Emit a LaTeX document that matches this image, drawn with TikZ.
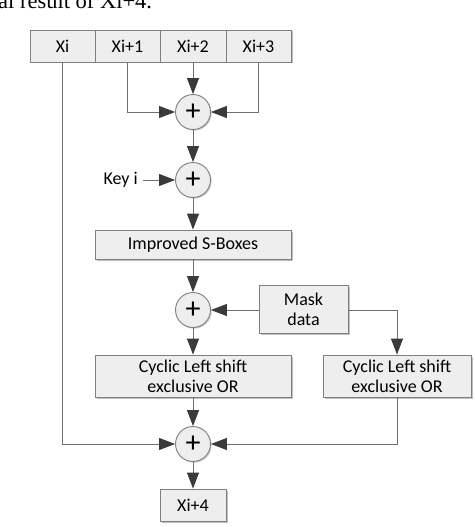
\documentclass[tikz,border=0pt]{standalone}
\usepackage{fontspec}
\setmainfont{Carlito}
\newfontfamily\serifcut{Liberation Serif}
\usetikzlibrary{arrows.meta,shadows}
\definecolor{boxfill}{HTML}{EEEEEE}
\definecolor{boxline}{HTML}{7F7F7F}
\definecolor{wire}{HTML}{707070}
\definecolor{tipc}{HTML}{3A3A3A}
\tikzset{
  blk/.style={draw=boxline, fill=boxfill, line width=0.9pt, inner sep=0pt, align=center,
    font=\fontsize{18}{20}\selectfont, text=black,
    drop shadow={shadow xshift=1.5pt, shadow yshift=-1.5pt, opacity=0.25, fill=black}},
  xorc/.style={circle, draw=boxline, fill=boxfill, line width=0.9pt, minimum size=35pt, inner sep=0pt,
    font=\fontsize{30}{30}\selectfont, drop shadow={shadow xshift=1.2pt, shadow yshift=-1.2pt, opacity=0.2, fill=black}},
  wireline/.style={draw=wire, line width=0.9pt},
  arr/.style={wireline, -{Triangle[length=16pt,width=12pt,color=tipc]}},
  lbl/.style={font=\fontsize{18}{20}\selectfont, inner sep=0pt}
}
\begin{document}
\begin{tikzpicture}[x=1pt,y=-1pt]
\useasboundingbox (0,0) rectangle (474,527);
\begin{scope}
\clip (0,0) rectangle (474,527);
\node[anchor=base west, inner sep=0pt, font=\serifcut\fontsize{22.5}{22.5}\selectfont] (cap) at (-2,8.5) {al result of Xi+4.};
\end{scope}
% top boxes
\node[blk, minimum width=65pt, minimum height=32pt] (xi) at (62.5,46) {Xi};
\node[blk, minimum width=65pt, minimum height=32pt] (xi1) at (127.5,46) {Xi+1};
\node[blk, minimum width=66pt, minimum height=32pt] (xi2) at (193,46) {Xi+2};
\node[blk, minimum width=65pt, minimum height=32pt] (xi3) at (258.5,46) {Xi+3};
% xors
\node[xorc] (c1) at (193,112) {+};
\node[xorc] (c2) at (193,180) {+};
\node[xorc] (c3) at (193,310) {+};
\node[xorc] (c4) at (193,444) {+};
\node[lbl, anchor=east] (key) at (138,180) {Key i};
\node[blk, minimum width=196pt, minimum height=29pt] (sbox) at (193,244.5) {Improved S-Boxes};
\node[blk, minimum width=89pt, minimum height=48pt] (mask) at (303.5,309) {Mask\\data};
\node[blk, minimum width=196pt, minimum height=42pt] (cls1) at (193,376) {Cyclic Left shift\\exclusive OR};
\node[blk, minimum width=148pt, minimum height=42pt] (cls2) at (397,376) {Cyclic Left shift\\exclusive OR};
\node[blk, minimum width=66pt, minimum height=32pt] (out) at (193,505) {Xi+4};
% connectors
\draw[arr] (xi1.south) |- (c1.west);
\draw[arr] (xi2.south) -- (c1.north);
\draw[arr] (xi3.south) |- (c1.east);
\draw[arr] (c1.south) -- (c2.north);
\draw[arr] (key.east) ++(5,0) -- (c2.west);
\draw[arr] (c2.south) -- (sbox.north);
\draw[arr] (sbox.south) -- (c3.north);
\draw[arr] (mask.west |- c3.east) -- (c3.east);
\draw[arr] (mask.east |- c3.east) -| (cls2.north);
\draw[arr] (c3.south) -- (cls1.north);
\draw[arr] (cls1.south) -- (c4.north);
\draw[arr] (xi.south) |- (c4.west);
\draw[arr] (cls2.south) |- (c4.east);
\draw[arr] (c4.south) -- (out.north);
\end{tikzpicture}
\end{document}
